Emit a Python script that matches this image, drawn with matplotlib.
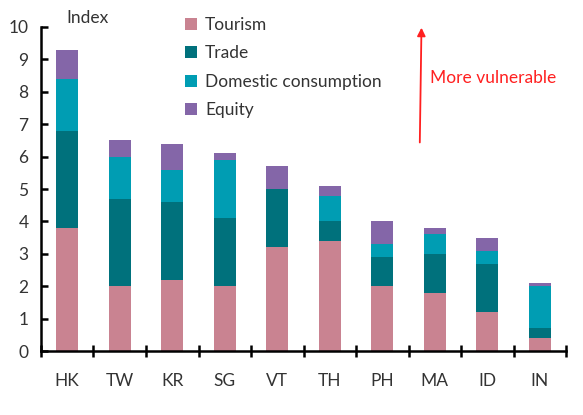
import numpy as np
from matplotlib import pyplot as plt

countries = ['HK', 'TW', 'KR', 'SG', 'VT', 'TH', 'PH', 'MA', 'ID', 'IN']
tourism = [3.8, 2.0, 2.2, 2.0, 3.2, 3.4, 2.0, 1.8, 1.2, 0.4]
trade = [3.0, 2.7, 2.4, 2.1, 1.8, 0.6, 0.9, 1.2, 1.5, 0.3]
domestic = [1.6, 1.3, 1.0, 1.8, 0.0, 0.8, 0.4, 0.6, 0.4, 1.3]
equity = [0.9, 0.5, 0.8, 0.2, 0.7, 0.3, 0.7, 0.2, 0.4, 0.1]

series = [('Tourism', tourism, '#c98391'),
          ('Trade', trade, '#00717c'),
          ('Domestic consumption', domestic, '#009db3'),
          ('Equity', equity, '#8466a8')]

plt.rcParams['font.family'] = ['Lato', 'DejaVu Sans']
fs = 12.5

fig = plt.figure(figsize=(5.83, 4.15), dpi=100)
ax = fig.add_axes([0.0703, 0.154, 0.9007, 0.781])

x = np.arange(len(countries))
bottom = np.zeros(len(countries))
for name, vals, col in series:
    ax.bar(x, vals, 0.42, bottom=bottom, color=col, label=name)
    bottom += np.array(vals)

ax.set_xlim(-0.5, len(countries) - 0.5)
ax.set_ylim(0, 10)
ax.set_yticks(range(0, 11))
ax.set_xticks(x)
ax.set_xticklabels(countries)
ax.set_xticks(np.arange(-0.5, len(countries)), minor=True)
ax.tick_params(axis='x', which='major', length=0, pad=16, labelsize=fs,
               colors='#333333')
ax.tick_params(axis='x', which='minor', direction='inout', length=9, width=1.8)
ax.tick_params(axis='y', direction='in', length=5, width=1.8, labelsize=fs,
               pad=9, colors='#333333')
ax.tick_params(axis='both', color='black')
for s in ['top', 'right']:
    ax.spines[s].set_visible(False)
for s in ['left', 'bottom']:
    ax.spines[s].set_linewidth(1.8)

fig.text(0.113, 0.957, 'Index', fontsize=fs, color='#333333',
         ha='left', va='center')

ax.legend(loc='upper left', bbox_to_anchor=(0.245, 1.08), frameon=False,
          fontsize=fs, handlelength=0.7, handleheight=0.7,
          handletextpad=0.45, labelspacing=0.72, labelcolor='#333333')

ax.annotate('', xy=(0.723, 0.94), xytext=(0.72, 0.65),
            xycoords='figure fraction', textcoords='figure fraction',
            arrowprops=dict(arrowstyle='-|>', color='#ff2020', lw=1.3,
                            mutation_scale=12))
fig.text(0.738, 0.812, 'More vulnerable', fontsize=fs, color='#ff2020',
         ha='left', va='center')

fig.savefig('out.png', dpi=100)
